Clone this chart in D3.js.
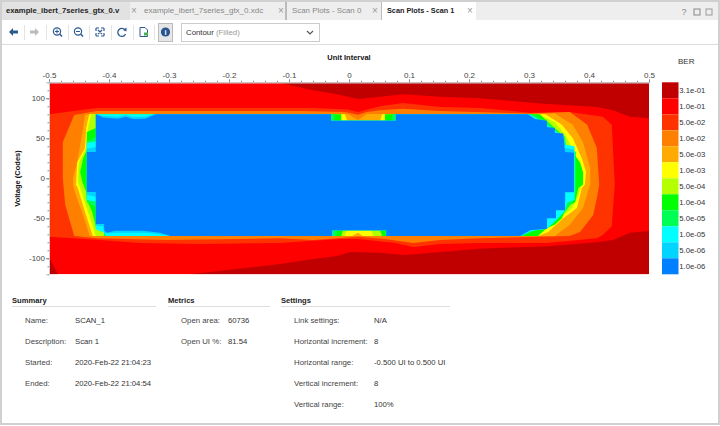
<!DOCTYPE html>
<html>
<head>
<meta charset="utf-8">
<script src="https://cdn.jsdelivr.net/npm/d3@7"></script>
<style>
  html, body { margin: 0; padding: 0; background: #fff; }
  svg { display: block; }
  text { font-family: "Liberation Sans", Arial, sans-serif; }
</style>
</head>
<body>
<div id="chart"></div>
<script>
// BER legend, worst at the top
const berLabels = ['3.1e-01', '1.0e-01', '5.0e-02', '1.0e-02', '5.0e-03', '1.0e-03',
  '5.0e-04', '1.0e-04', '5.0e-05', '1.0e-05', '5.0e-06', '1.0e-06'];
const berColors = ['#c00000', '#ff0000', '#ff3300', '#ff8000', '#ffaa00', '#ffff00',
  '#b4ff00', '#00ff00', '#00ff55', '#00ffff', '#00d4ff', '#0080ff'];

const xTicks = [-0.5, -0.4, -0.3, -0.2, -0.1, 0, 0.1, 0.2, 0.3, 0.4, 0.5];
const yTicks = [100, 50, 0, -50, -100];

// contour outlines, [unit interval, voltage codes]
const darkTop = [[-0.127, 120], [-0.115, 119], [-0.06, 110], [-0.02, 105], [0.015, 99], [0.052, 102],
  [0.09, 105], [0.152, 102], [0.218, 100], [0.33, 93], [0.413, 89], [0.44, 85], [0.468, 77], [0.5, 75], [0.5, 120]];
const darkCorner = [[-0.5, 120], [-0.495, 120], [-0.5, 113]];
const darkBottomLeft = [[-0.5, -98], [-0.485, -120], [-0.5, -120]];
const darkBottom = [[-0.265, -120], [-0.115, -107], [-0.06, -101], [-0.02, -97], [0.002, -92], [0.052, -93],
  [0.093, -96], [0.152, -92], [0.218, -88], [0.33, -85], [0.413, -80], [0.44, -77], [0.468, -68], [0.5, -66], [0.5, -120]];

const level5e2 = [[-0.5, 80], [-0.458, 84], [-0.42, 88], [-0.2, 88], [-0.06, 88], [-0.003, 86], [0.015, 83],
  [0.052, 90], [0.09, 94], [0.152, 89], [0.218, 88], [0.302, 82], [0.368, 83], [0.423, 77], [0.438, 67],
  [0.443, -8], [0.44, -37], [0.438, -60], [0.423, -71], [0.413, -75], [0.33, -81], [0.218, -81], [0.152, -82],
  [0.107, -86], [0.077, -81], [0.015, -76], [-0.015, -76], [-0.115, -81], [-0.248, -82], [-0.348, -81],
  [-0.415, -77], [-0.5, -73]];
const level1e2 = [[-0.458, 79], [-0.42, 84], [-0.082, 84], [-0.007, 83], [0.015, 79.5], [0.03, 83], [0.052, 85],
  [0.09, 87], [0.152, 84], [0.302, 81], [0.368, 83], [0.397, 67], [0.413, 38], [0.417, -8], [0.413, -25],
  [0.407, -46], [0.385, -67], [0.368, -72], [0.218, -75], [0.152, -77], [0.107, -81], [0.06, -76], [0.015, -73],
  [-0.06, -77], [-0.115, -75], [-0.303, -77], [-0.42, -75], [-0.458, -72], [-0.473, -33], [-0.477, 0], [-0.477, 45]];
const level5e3 = [[-0.44, 79.5], [-0.42, 80.5], [-0.002, 80.5], [0.015, 73], [0.03, 80.5], [0.302, 80.5],
  [0.343, 81], [0.373, 67], [0.39, 45], [0.402, 13], [0.402, -8], [0.398, -17], [0.39, -37], [0.368, -58],
  [0.343, -72], [-0.432, -72], [-0.445, -42], [-0.457, -17], [-0.46, -8], [-0.46, 0], [-0.453, 20], [-0.443, 63]];
const level1e3 = [[-0.433, 80], [-0.007, 80], [-0.003, 72], [0.052, 72], [0.055, 80], [0.327, 80], [0.355, 67],
  [0.373, 50], [0.388, 25], [0.395, 8], [0.393, -8], [0.388, -12], [0.38, -37], [0.357, -50], [0.332, -67],
  [0.315, -72], [0.023, -72], [0.015, -68], [0.005, -72], [-0.427, -72], [-0.44, -42], [-0.452, -12],
  [-0.455, -8], [-0.453, 20], [-0.44, 38], [-0.438, 63]];
const level5e4 = [[-0.43, 80], [-0.013, 80], [-0.013, 72], [0.06, 72], [0.06, 80], [0.315, 80], [0.343, 70],
  [0.36, 55], [0.377, 30], [0.388, 10], [0.388, -8], [0.382, -22], [0.372, -37], [0.348, -52], [0.32, -68],
  [0.302, -72], [0.04, -72], [0.037, -65], [-0.003, -65], [-0.007, -72], [-0.422, -72], [-0.435, -42],
  [-0.448, -12], [-0.452, -5], [-0.45, 20], [-0.438, 38], [-0.435, 63]];
const level1e4 = [[-0.422, 63], [-0.437, 58], [-0.437, 35], [-0.443, 25], [-0.448, 8], [-0.445, -3], [-0.438, -17],
  [-0.437, -27], [-0.428, -42], [-0.422, -60], [-0.408, -62], [-0.408, -72], [-0.013, -72], [-0.01, -65],
  [0.052, -65], [0.055, -72], [0.315, -72], [0.33, -62], [0.343, -58], [0.355, -50], [0.362, -36], [0.377, -30],
  [0.382, -12], [0.39, -8], [0.39, 8], [0.385, 20], [0.375, 30], [0.363, 38], [0.357, 52], [0.347, 60],
  [0.335, 68], [0.318, 80], [0.06, 80], [0.06, 72], [-0.013, 72], [-0.013, 80], [-0.422, 80]];
const level5e5 = [[-0.421, 52], [-0.437, 46], [-0.437, -30], [-0.422, -36], [-0.422, -62], [-0.409, -64],
  [-0.405, -72], [-0.02, -72], [-0.02, -65], [0.06, -65], [0.062, -72], [0.29, -72], [0.307, -66], [0.33, -63],
  [0.347, -52], [0.36, -42], [0.375, -27], [0.378, -17], [0.378, 33], [0.362, 40], [0.36, 52], [0.345, 60],
  [0.332, 70], [0.306, 80], [0.072, 80], [0.072, 72], [-0.024, 72], [-0.024, 80], [-0.421, 80]];
const level1e5 = [[-0.422, 46], [-0.437, 44], [-0.437, -27], [-0.422, -29], [-0.422, -64], [-0.41, -67],
  [-0.405, -72], [-0.027, -72], [-0.027, -65], [0.062, -65], [0.062, -72], [0.287, -72], [0.304, -66], [0.33, -63],
  [0.347, -51], [0.358, -42], [0.364, -30], [0.376, -27], [0.376, 40], [0.36, 42], [0.358, 52], [0.344, 59],
  [0.331, 66], [0.312, 75], [0.3, 80], [0.078, 80], [0.078, 72], [-0.03, 72], [-0.03, 80], [-0.422, 80]];
const level5e6 = [[-0.422, 39], [-0.437, 37], [-0.437, -21], [-0.422, -23], [-0.422, -59], [-0.41, -60],
  [-0.408, -69], [-0.39, -68], [-0.34, -68], [-0.318, -70], [-0.295, -72], [-0.028, -72], [-0.028, -65], [0.062, -65],
  [0.062, -72], [0.286, -72], [0.303, -65], [0.33, -63], [0.33, -50], [0.345, -49], [0.345, -40], [0.36, -39],
  [0.361, -18], [0.375, -18], [0.375, 36], [0.36, 38], [0.358, 50], [0.343, 58], [0.33, 65], [0.31, 74],
  [0.299, 80], [0.078, 80], [0.078, 72], [-0.03, 72], [-0.03, 80], [-0.325, 80], [-0.34, 77], [-0.36, 77],
  [-0.372, 79], [-0.385, 77], [-0.41, 78], [-0.42, 80]];
const level1e6 = [[-0.422, 80], [-0.41, 76], [-0.385, 74.5], [-0.372, 77], [-0.36, 74], [-0.34, 74.5], [-0.322, 80],
  [-0.03, 80], [-0.03, 72], [0.078, 72], [0.078, 80], [0.298, 80], [0.31, 74], [0.33, 72], [0.33, 64], [0.343, 63],
  [0.343, 57], [0.357, 56], [0.358, 49], [0.36, 33], [0.375, 32], [0.375, -17], [0.36, -17], [0.36, -40],
  [0.345, -40], [0.345, -50], [0.33, -50], [0.33, -63], [0.302, -65], [0.285, -72], [0.062, -72], [0.062, -65],
  [-0.028, -65], [-0.028, -72], [-0.298, -72], [-0.315, -68], [-0.343, -65.5], [-0.39, -65.5], [-0.403, -68], [-0.408, -65],
  [-0.408, -57], [-0.422, -57], [-0.422, -17], [-0.437, -17], [-0.437, 33], [-0.422, 33]];

// summary tables
const summaryRows = [['Name:', 'SCAN_1'], ['Description:', 'Scan 1'], ['Started:', '2020-Feb-22 21:04:23'], ['Ended:', '2020-Feb-22 21:04:54']];
const metricsRows = [['Open area:', '60736'], ['Open UI %:', '81.54']];
const settingsRows = [['Link settings:', 'N/A'], ['Horizontal increment:', '8'], ['Horizontal range:', '-0.500 UI to 0.500 UI'],
  ['Vertical increment:', '8'], ['Vertical range:', '100%']];

const tabs = [
  { label: 'example_ibert_7series_gtx_0.v', x: 2, w: 128, textX: 6, closeX: 134, size: 7.7, bold: true, bg: '#e2e2e2', color: '#222' },
  { label: 'example_ibert_7series_gtx_0.xdc', x: 140, w: 145, textX: 144, closeX: 281, size: 8, bold: false, bg: '#eeeeee', color: '#888' },
  { label: 'Scan Plots - Scan 0', x: 288, w: 93, textX: 292, closeX: 375, size: 7.9, bold: false, bg: '#eeeeee', color: '#888' },
  { label: 'Scan Plots - Scan 1', x: 382, w: 94, textX: 387, closeX: 470, size: 7.3, bold: true, bg: '#ffffff', color: '#222' }
];

const width = 720, height = 426;
const svg = d3.select('#chart').append('svg').attr('width', width).attr('height', height);

// window frame
svg.append('rect').attr('width', width).attr('height', height).attr('fill', '#fff');
svg.append('rect').attr('x', 2).attr('y', 2).attr('width', 716).attr('height', 18).attr('fill', '#eeeeee');
svg.append('rect').attr('x', 1).attr('y', 1).attr('width', width - 2).attr('height', height - 3)
  .attr('fill', 'none').attr('stroke', '#d0d0d0').attr('stroke-width', 2);

// tab strip
const tabG = svg.selectAll('g.tab').data(tabs).enter().append('g').attr('class', 'tab');
tabG.append('rect').attr('x', d => d.x).attr('y', 2).attr('width', d => d.w).attr('height', 18).attr('fill', d => d.bg);
tabG.append('text').attr('x', d => d.textX).attr('y', 13).attr('font-size', d => d.size)
  .attr('font-weight', d => d.bold ? 'bold' : 'normal').attr('fill', d => d.color).text(d => d.label);
tabG.append('text').attr('x', d => d.closeX).attr('y', 14).attr('font-size', 10).attr('text-anchor', 'middle')
  .attr('fill', '#999').text('×');
svg.append('rect').attr('x', 285).attr('y', 2).attr('width', 2).attr('height', 18).attr('fill', '#bbb');
svg.append('rect').attr('x', 381).attr('y', 2).attr('width', 1).attr('height', 18).attr('fill', '#bbb');
svg.append('text').attr('x', 684).attr('y', 15).attr('font-size', 9).attr('text-anchor', 'middle').attr('fill', '#888').text('?');
svg.append('rect').attr('x', 694).attr('y', 9).attr('width', 6).attr('height', 6).attr('fill', 'none').attr('stroke', '#888');
svg.append('rect').attr('x', 706).attr('y', 9).attr('width', 6).attr('height', 6).attr('fill', 'none').attr('stroke', '#999');

// toolbar
svg.append('line').attr('x1', 2).attr('x2', 718).attr('y1', 44.5).attr('y2', 44.5).attr('stroke', '#ddd');
const blue = '#2b5a92';
[24, 46, 68, 89, 111, 133, 154].forEach(sx => {
  svg.append('line').attr('x1', sx + 0.5).attr('x2', sx + 0.5).attr('y1', 25).attr('y2', 40).attr('stroke', '#e4e4e4');
});
svg.append('path').attr('d', 'M9 32 L13 28 L13 30.5 L18 30.5 L18 33.5 L13 33.5 L13 36 Z').attr('fill', blue);
svg.append('path').attr('d', 'M39 32 L35 28 L35 30.5 L30 30.5 L30 33.5 L35 33.5 L35 36 Z').attr('fill', '#bbb');
[57, 78].forEach((cx, i) => {
  svg.append('circle').attr('cx', cx).attr('cy', 31.5).attr('r', 3.6).attr('fill', 'none').attr('stroke', blue).attr('stroke-width', 1.2);
  svg.append('line').attr('x1', cx + 2.6).attr('y1', 34).attr('x2', cx + 5).attr('y2', 36.5).attr('stroke', blue).attr('stroke-width', 1.5);
  svg.append('path').attr('d', i === 0 ? `M${cx - 2} 31.5 h4 M${cx} 29.5 v4` : `M${cx - 2} 31.5 h4`).attr('stroke', blue).attr('stroke-width', 1);
});
svg.append('path').attr('d', 'M96 28 h3 M96 28 v3 M104 28 h-3 M104 28 v3 M96 36 h3 M96 36 v-3 M104 36 h-3 M104 36 v-3 M98 30 L102 34 M102 30 L98 34')
  .attr('stroke', blue).attr('stroke-width', 1.2).attr('fill', 'none');
svg.append('path').attr('d', 'M125 30 A4 4 0 1 0 125.5 34').attr('fill', 'none').attr('stroke', blue).attr('stroke-width', 1.3);
svg.append('path').attr('d', 'M123 30 L126.5 27.5 L126.5 31.5 Z').attr('fill', blue);
svg.append('path').attr('d', 'M140 27.5 h5 l2.5 2.5 v6.5 h-7.5 Z').attr('fill', '#fff').attr('stroke', blue);
svg.append('rect').attr('x', 144).attr('y', 32.5).attr('width', 4).attr('height', 3).attr('fill', '#4caf50');
svg.append('rect').attr('x', 158.5).attr('y', 23.5).attr('width', 14).attr('height', 18).attr('fill', '#e6e6e6').attr('stroke', '#bbb');
svg.append('circle').attr('cx', 165.5).attr('cy', 32).attr('r', 4.6).attr('fill', '#28548f');
svg.append('text').attr('x', 165.5).attr('y', 35).attr('font-size', 7.5).attr('font-weight', 'bold').attr('text-anchor', 'middle').attr('fill', '#fff').text('i');
svg.append('rect').attr('x', 181.5).attr('y', 23.5).attr('width', 138).attr('height', 18).attr('fill', '#fff').attr('stroke', '#ccc');
const combo = svg.append('text').attr('x', 186).attr('y', 35).attr('font-size', 7.8).attr('fill', '#333');
combo.append('tspan').text('Contour ');
combo.append('tspan').attr('fill', '#999').text('(Filled)');
svg.append('path').attr('d', 'M307 31 L310 34 L313 31').attr('fill', 'none').attr('stroke', '#555').attr('stroke-width', 1.2);

// plot
const xScale = d3.scaleLinear().domain([-0.5, 0.5]).range([49, 649]);
const yScale = d3.scaleLinear().domain([120, -120]).range([82.3, 274.3]);
const outline = d3.line().x(d => xScale(d[0])).y(d => yScale(d[1]));

svg.append('clipPath').attr('id', 'plot-clip').append('rect')
  .attr('x', xScale(-0.5)).attr('y', yScale(120))
  .attr('width', xScale(0.5) - xScale(-0.5)).attr('height', yScale(-120) - yScale(120));

const plot = svg.append('g').attr('clip-path', 'url(#plot-clip)');
plot.append('rect').attr('x', xScale(-0.5)).attr('y', yScale(120))
  .attr('width', xScale(0.5) - xScale(-0.5)).attr('height', yScale(-120) - yScale(120)).attr('fill', berColors[1]);

// painted from the worst BER inwards
const layers = [
  { pts: darkTop, color: berColors[0] }, { pts: darkCorner, color: berColors[0] },
  { pts: darkBottomLeft, color: berColors[0] }, { pts: darkBottom, color: berColors[0] },
  { pts: level5e2, color: berColors[2] }, { pts: level1e2, color: berColors[3] },
  { pts: level5e3, color: berColors[4] }, { pts: level1e3, color: berColors[5] },
  { pts: level5e4, color: berColors[6] }, { pts: level1e4, color: berColors[7] },
  { pts: level5e5, color: berColors[8] }, { pts: level1e5, color: berColors[9] },
  { pts: level5e6, color: berColors[10] }, { pts: level1e6, color: berColors[11] }
];
plot.selectAll('path').data(layers).enter().append('path')
  .attr('d', d => outline(d.pts) + 'Z').attr('fill', d => d.color);

// axes
const xAxisTop = d3.axisTop(xScale).tickValues(xTicks).tickSize(3).tickPadding(1)
  .tickFormat(d => d === 0 ? '0' : d3.format('.1f')(d).replace('−', '-'));
const xMinor = d3.axisTop(xScale).tickValues(d3.range(-25, 26).map(i => i * 0.02)).tickSize(1.5).tickFormat('');
const yAxis = d3.axisLeft(yScale).tickValues(yTicks).tickSize(3).tickPadding(1).tickFormat(d => String(d));
const yMinor = d3.axisLeft(yScale).tickValues(d3.range(-12, 13).map(i => i * 10)).tickSize(1.5).tickFormat('');

[xMinor, xAxisTop].forEach(ax => {
  svg.append('g').attr('transform', `translate(0,${yScale(120)})`).call(ax);
});
[yMinor, yAxis].forEach(ax => {
  svg.append('g').attr('transform', `translate(${xScale(-0.5)},0)`).call(ax);
});
svg.selectAll('.domain').attr('stroke', '#ccc');
svg.selectAll('.tick line').attr('stroke', '#888');
svg.selectAll('.tick text').attr('font-size', 8).attr('font-family', '"Liberation Sans", Arial, sans-serif').attr('fill', '#444');

svg.append('text').attr('x', 349).attr('y', 60).attr('text-anchor', 'middle').attr('font-size', 7.5)
  .attr('font-weight', 'bold').attr('fill', '#111').text('Unit Interval');
svg.append('text').attr('transform', 'translate(19.5,178.5) rotate(-90)').attr('text-anchor', 'middle')
  .attr('font-size', 7.5).attr('font-weight', 'bold').attr('fill', '#111').text('Voltage (Codes)');

// legend
const legendY = d3.scaleBand().domain(berLabels).range([82.3, 274.3]);
svg.append('text').attr('x', 678).attr('y', 63.5).attr('font-size', 8).attr('fill', '#333').text('BER');
const legend = svg.selectAll('g.legend').data(berLabels).enter().append('g').attr('class', 'legend');
legend.append('rect').attr('x', 662).attr('y', d => legendY(d)).attr('width', 16.5)
  .attr('height', legendY.bandwidth()).attr('fill', (d, i) => berColors[i]);
legend.append('text').attr('x', 679.3).attr('y', d => legendY(d) + legendY.bandwidth() / 2 + 3)
  .attr('font-size', 7.7).attr('fill', '#333').text(d => d);

// summary panels
const panels = [
  { title: 'Summary', x: 12, x2: 156, valueX: 75, rows: summaryRows },
  { title: 'Metrics', x: 168, x2: 270, valueX: 228, rows: metricsRows },
  { title: 'Settings', x: 281, x2: 450, valueX: 374, rows: settingsRows }
];
const rowY = d3.scalePoint().domain(d3.range(5)).range([323, 407]);
panels.forEach(p => {
  svg.append('text').attr('x', p.x).attr('y', 303).attr('font-size', 7.6).attr('font-weight', 'bold').attr('fill', '#222').text(p.title);
  svg.append('line').attr('x1', p.x).attr('x2', p.x2).attr('y1', 306.5).attr('y2', 306.5).attr('stroke', '#ddd');
  const row = svg.append('g').selectAll('g').data(p.rows).enter().append('g');
  row.append('text').attr('x', p.x + 13).attr('y', (d, i) => rowY(i)).attr('font-size', 7.8).attr('fill', '#444').text(d => d[0]);
  row.append('text').attr('x', p.valueX).attr('y', (d, i) => rowY(i)).attr('font-size', 7.7).attr('fill', '#333').text(d => d[1]);
});
</script>
</body>
</html>
